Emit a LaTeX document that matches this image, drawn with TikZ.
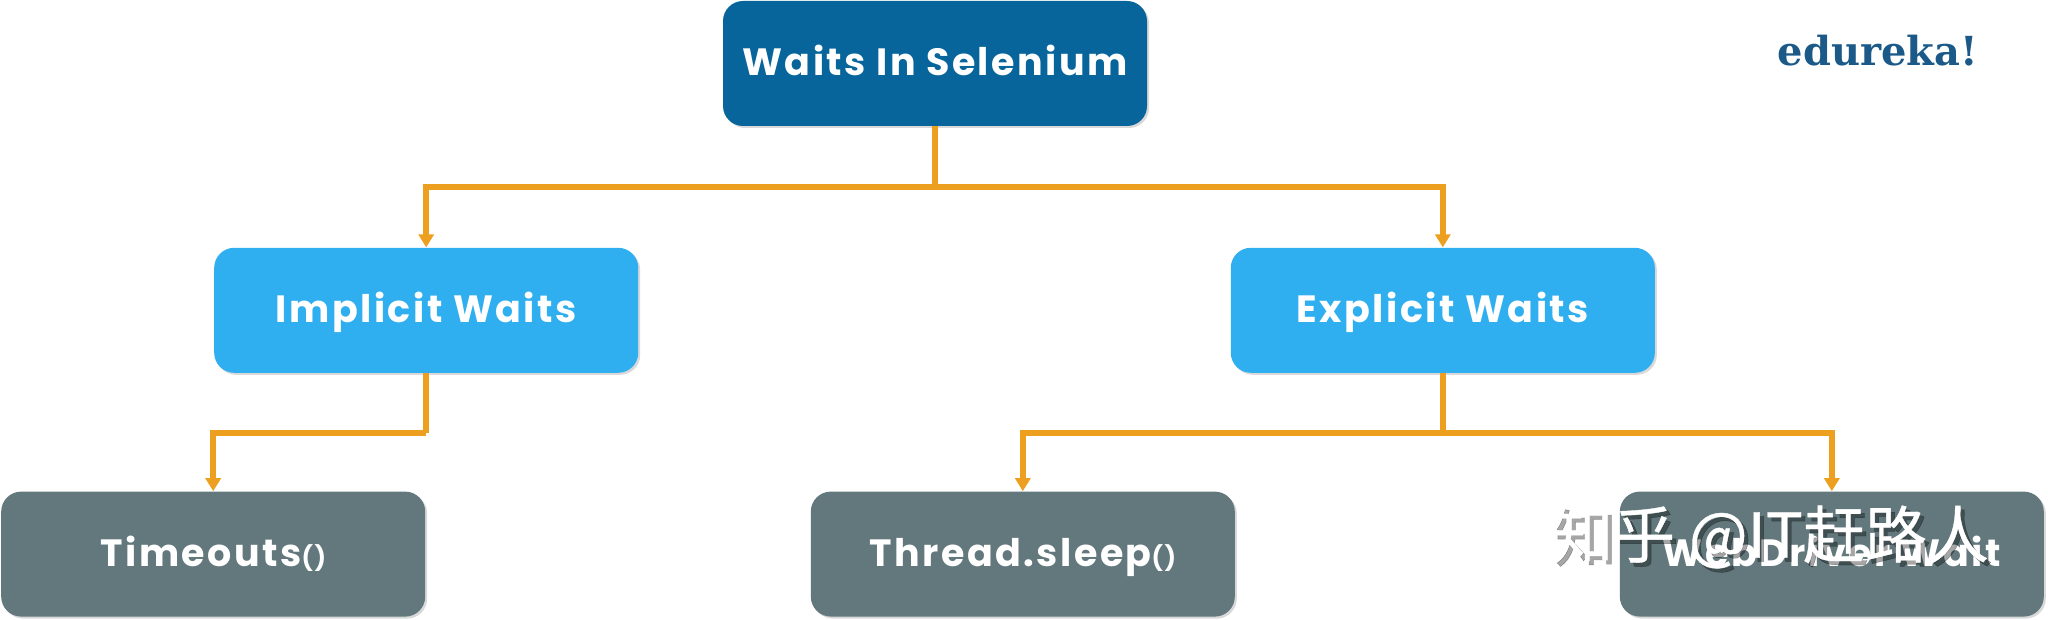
\documentclass[tikz,border=0pt]{standalone}
\usepackage{fontspec}
\usetikzlibrary{positioning}
\usetikzlibrary{shadows}
\usetikzlibrary{arrows.meta}
\newfontfamily\boxfont[LetterSpace=6.5]{Poppins}
\newfontfamily\logofont{DejaVu Serif}
\newfontfamily\markfont[FakeBold=0.6]{Noto Sans CJK SC}
\definecolor{topblue}{HTML}{07659B}
\definecolor{midblue}{HTML}{2FAEF0}
\definecolor{slate}{HTML}{62787C}
\definecolor{linkorange}{HTML}{EDA020}
\definecolor{logoblue}{HTML}{1B5A88}
\tikzset{main box/.style={rectangle,rounded corners=10pt,minimum width=212pt,minimum height=62.5pt,inner sep=0pt,
    text height=13pt,text depth=1pt,
    text=white,font=\boxfont\bfseries\fontsize{19}{22}\selectfont,drop shadow={shadow xshift=1pt,shadow yshift=-1pt,opacity=0.3}},
  link/.style={draw=linkorange,line width=3pt},
  wmark/.style={font=\markfont\fontsize{31}{34}\selectfont,inner sep=0pt},}

\begin{document}
\begin{tikzpicture}[x=1pt,y=1pt]
      \useasboundingbox (0,0) rectangle (1024,-310);
      \node[main box,fill=topblue] (top) at (467.5,-31.75) {Waits In Selenium};
      \node[main box,fill=midblue] (impl) [below left = 60.5pt and 42pt of top] {Implicit Waits};
      \node[main box,fill=midblue] (expl) [below right = 60.5pt and 41.5pt of top] {Explicit Waits};
      \node[main box,fill=slate] (tout) [below = 59pt of impl,xshift=-106.5pt] {Timeouts{\fontsize{12}{14}\selectfont()}};
      \node[main box,fill=slate] (sleep) [below = 59pt of expl,xshift=-210pt] {Thread.sleep{\fontsize{12}{14}\selectfont()}};
      \node[main box,fill=slate] (wdw) [below = 59pt of expl,xshift=194.5pt] {WebDriver Wait};
      \node[font=\logofont\bfseries\fontsize{20}{22}\selectfont,text=logoblue,inner sep=0pt] (logo) at (939,-25.5) {edureka!};

      \coordinate (topjoin) at ([yshift=-30.5pt]top.south);
      \coordinate (impljoin) at ([yshift=-30pt]impl.south);
      \coordinate (expljoin) at ([yshift=-30pt]expl.south);
      \path[link]
      (top.south) edge (topjoin)
      (impl.south) edge (impljoin)
      (expl.south) edge (expljoin);
      \draw[link,-{Triangle[length=6.5pt,width=7.5pt]}] (topjoin) -| (impl.north);
      \draw[link,-{Triangle[length=6.5pt,width=7.5pt]}] (topjoin) -| (expl.north);
      \draw[link,-{Triangle[length=6.5pt,width=7.5pt]}] (impljoin) -| (tout.north);
      \draw[link,-{Triangle[length=6.5pt,width=7.5pt]}] (expljoin) -| (sleep.north);
      \draw[link,-{Triangle[length=6.5pt,width=7.5pt]}] (expljoin) -| (wdw.north);

      \node[wmark,text=black,opacity=0.35] (markshadow) at (887,-270.5) {知乎 @IT赶路人};
      \node[wmark,text=white] (mark) at (885,-268.5) {知乎 @IT赶路人};
    \end{tikzpicture}
\end{document}
